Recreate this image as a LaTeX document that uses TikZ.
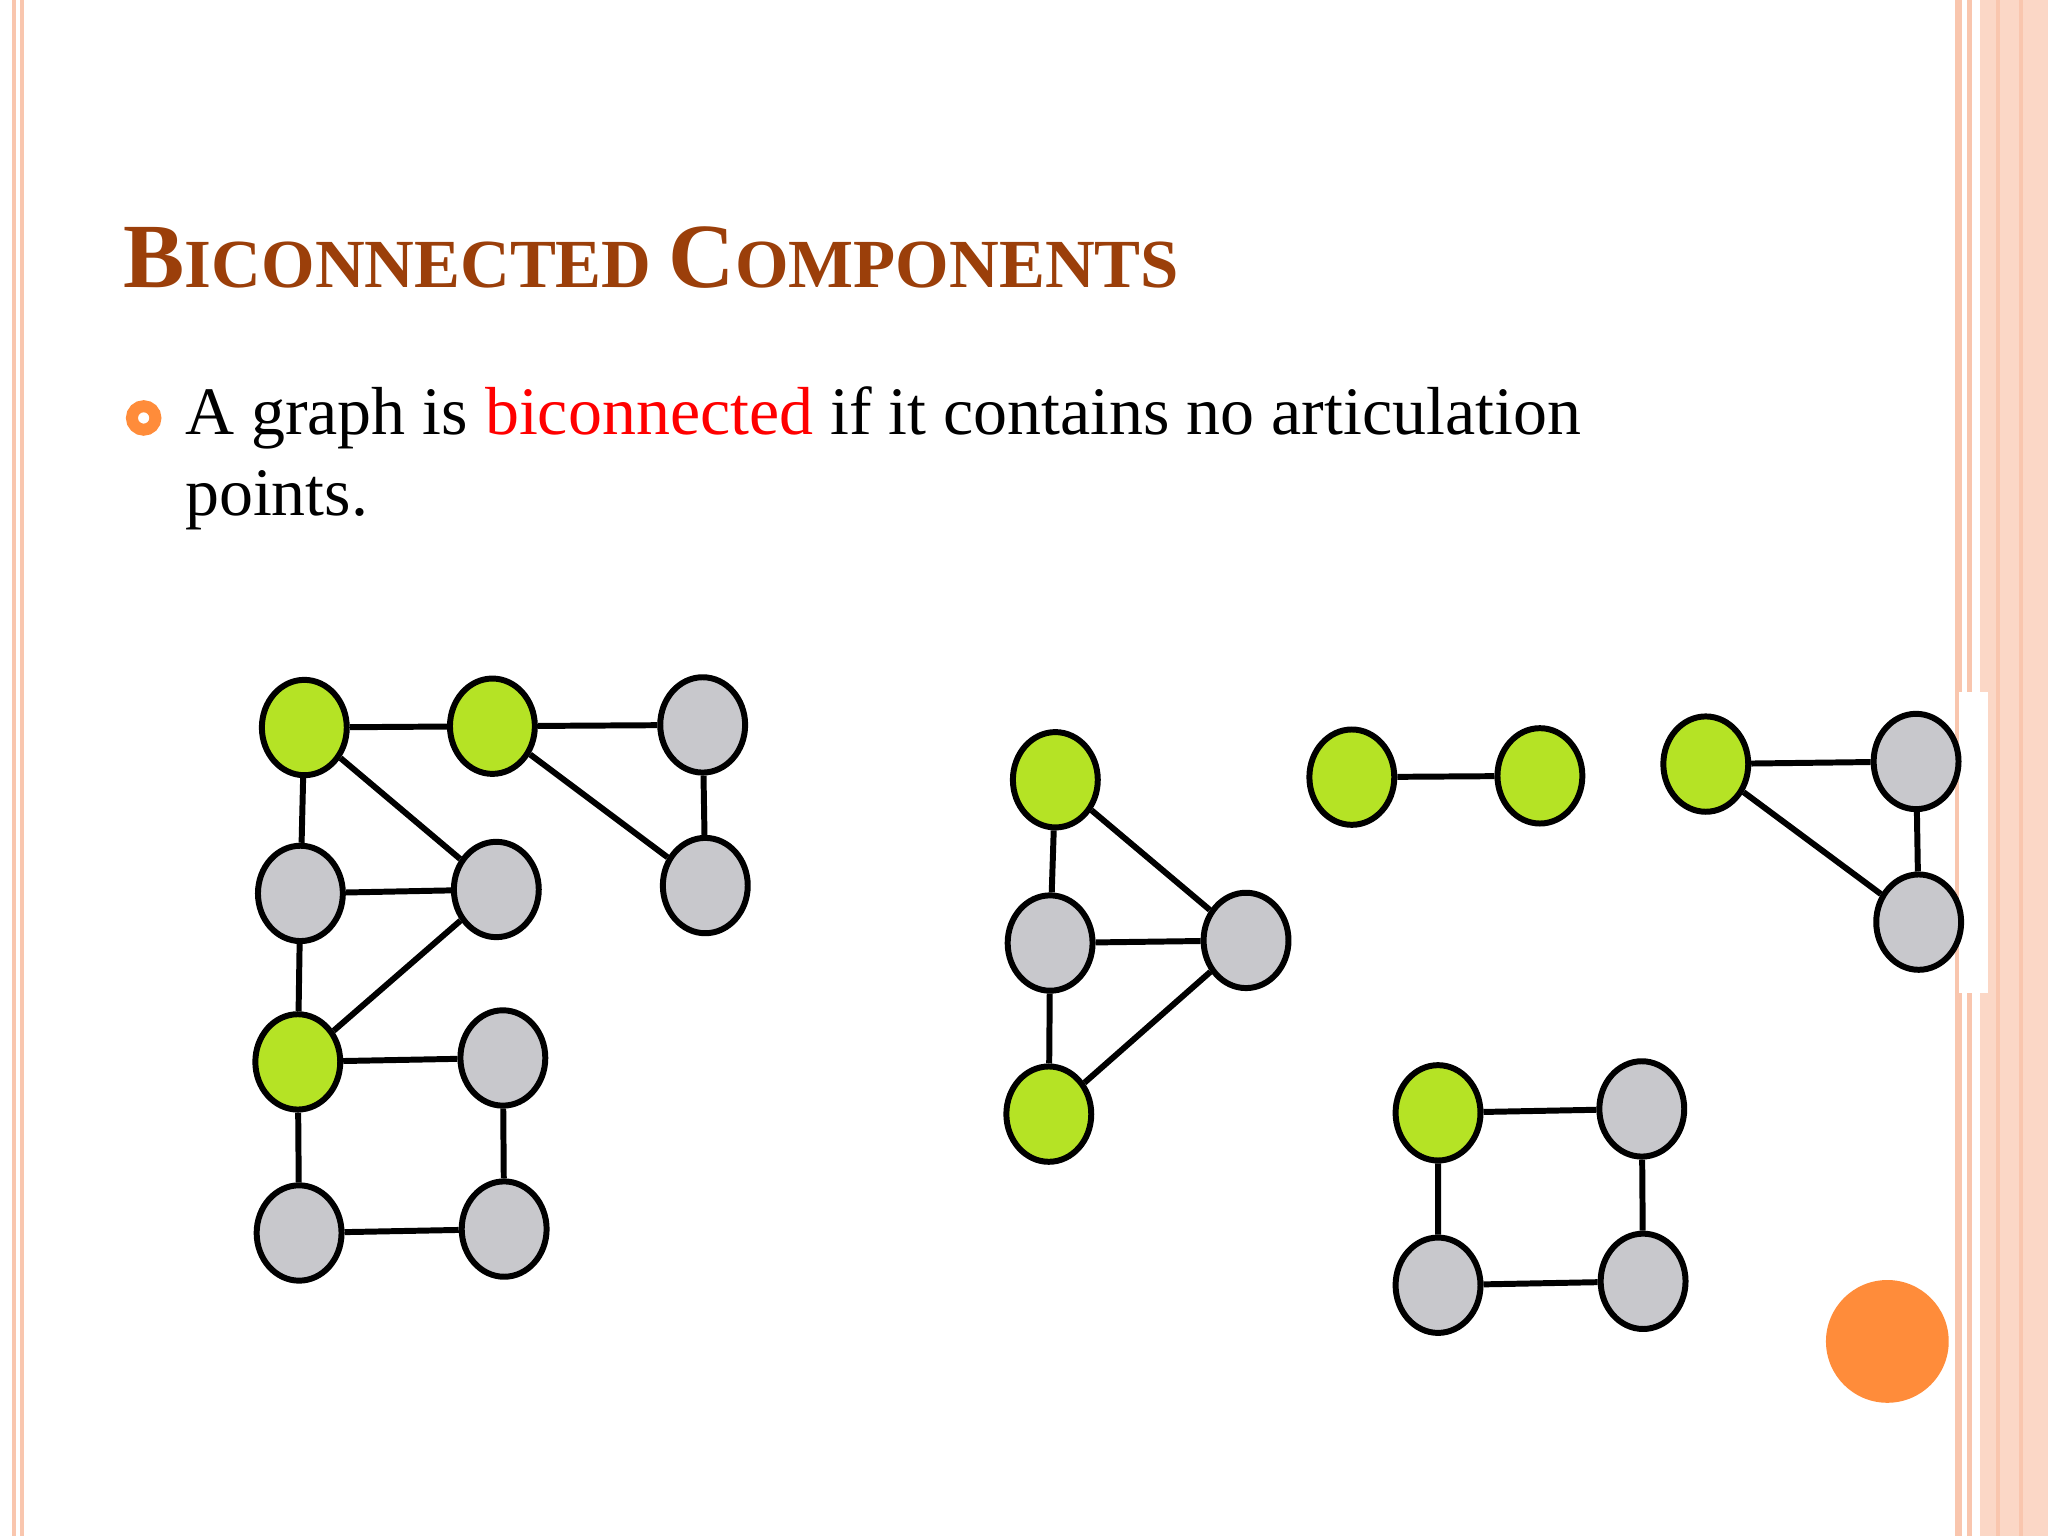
\documentclass[tikz,border=0pt]{standalone}
\usepackage{fontspec}
\setmainfont{Liberation Serif}
\usetikzlibrary{shapes.geometric}
\definecolor{salmon}{HTML}{F9C6AE}
\definecolor{titlec}{HTML}{9B3F0A}
\definecolor{gn}{HTML}{B5E325}
\definecolor{gy}{HTML}{C8C8CC}
\definecolor{orng}{HTML}{FF8C3A}
\newcommand{\bigc}[1]{{\fontsize{20}{24}\selectfont #1}}
\begin{document}
\begin{tikzpicture}[x=0.1mm,y=-0.1mm,
  vtx/.style={ellipse,draw=black,line width=1.3pt,minimum width=6.5mm,minimum height=7.3mm,inner sep=0pt},
  gv/.style={vtx,fill=gn}, yv/.style={vtx,fill=gy},
  ed/.style={line width=1.3pt}]
\useasboundingbox (0,0) rectangle (1568,1176);
\fill[white] (0,0) rectangle (1568,1176);
% borders
\fill[salmon] (9,0) rectangle (12,1176);
\fill[salmon] (15,0) rectangle (18,1176);
\fill[salmon] (1497,0) rectangle (1502,1176);
\fill[salmon] (1506,0) rectangle (1510,1176);
\fill[salmon!70] (1516,0) rectangle (1568,1176);
\fill[salmon] (1528,0) rectangle (1531,1176);
\fill[salmon] (1546,0) rectangle (1549,1176);
\fill[white] (1500,530) rectangle (1522,760);
% title
\node[anchor=base west,inner sep=0pt,text=titlec,font=\fontsize{15}{20}\selectfont\bfseries] (title) at (94,220) {\bigc{B}ICONNECTED \bigc{C}OMPONENTS};
\draw[orng,line width=2.6pt] (110,320) circle (9);
\node[anchor=base west,inner sep=0pt,font=\fontsize{14.8}{20}\selectfont] (body) at (141,333) {A graph is \textcolor{red}{biconnected} if it contains no articulation};
\node[anchor=base west,inner sep=0pt,font=\fontsize{14.8}{20}\selectfont] (body2) at (141,395) {points.};
% graph 1
\node[gv] (A) at (233,557) {}; \node[gv] (B) at (377,556) {}; \node[yv] (C) at (538,555) {};
\node[yv] (D) at (230,684) {}; \node[yv] (E) at (380,681) {}; \node[yv] (F) at (540,678) {};
\node[gv] (G) at (228,813) {}; \node[yv] (H) at (385,810) {};
\node[yv] (I) at (229,944) {}; \node[yv] (J) at (386,941) {};
\draw[ed] (A)--(B) (B)--(C) (A)--(D) (A)--(E) (D)--(E) (B)--(F) (C)--(F) (D)--(G) (G)--(E) (G)--(H) (H)--(J) (G)--(I) (I)--(J);
% graph 2
\node[gv] (K) at (808,597) {}; \node[yv] (L) at (804,722) {}; \node[yv] (M) at (954,720) {}; \node[gv] (N) at (803,853) {};
\draw[ed] (K)--(L) (K)--(M) (L)--(M) (L)--(N) (N)--(M);
% graph 3
\node[gv] (O) at (1035,595) {}; \node[gv] (P) at (1179,594) {};
\draw[ed] (O)--(P);
% graph 4
\node[gv] (Q) at (1306,585) {}; \node[yv] (R) at (1467,583) {}; \node[yv] (S) at (1469,706) {};
\draw[ed] (Q)--(R) (R)--(S) (Q)--(S);
% graph 5
\node[gv] (T) at (1101,852) {}; \node[yv] (U) at (1257,849) {}; \node[yv] (V) at (1101,984) {}; \node[yv] (W) at (1258,981) {};
\draw[ed] (T)--(U) (T)--(V) (U)--(W) (V)--(W);
% orange dot
\fill[orng] (1445,1027) circle (47);
\end{tikzpicture}
\end{document}
